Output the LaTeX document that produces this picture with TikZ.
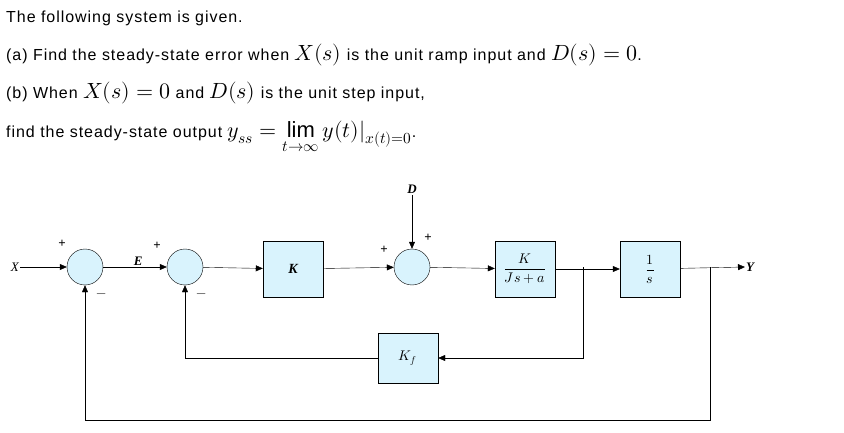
\documentclass[tikz,border=0pt]{standalone}
\usepackage{fontspec}
\setmainfont[LetterSpace=6]{Liberation Sans}
\newfontfamily\serif{Liberation Serif}
\usepackage{unicode-math}
\setmathfont{Latin Modern Math}
\usetikzlibrary{arrows.meta}
\newcommand{\bm}[1]{{\fontsize{22}{22}\selectfont$#1$}}
\begin{document}
\begin{tikzpicture}[x=1pt,y=-1pt,
  blk/.style={draw,fill=cyan!15,minimum width=60pt,minimum height=56pt,inner sep=0pt,font=\fontsize{14}{16}\selectfont},
  sj/.style={draw,circle,fill=cyan!15,minimum size=36pt,inner sep=0pt},
  sig/.style={-{Triangle[length=7pt,width=6pt]}},
  lab/.style={font=\fontsize{13}{15}\selectfont\serif,inner sep=1pt},
  txt/.style={anchor=west,font=\fontsize{16}{19}\selectfont,inner sep=0pt}]
\useasboundingbox (0,0) rectangle (844,433);
\node[txt] (t1) at (6,18) {The following system is given.};
\node[txt] (t2) at (6,55) {(a) Find the steady-state error when \bm{X(s)} is the unit ramp input and \bm{D(s)=0}.};
\node[txt] (t3) at (6,93) {(b) When \bm{X(s)=0} and \bm{D(s)} is the unit step input,};
\node[txt,anchor=base west] (t4) at (6,138) {find the steady-state output \bm{y_{ss}=\lim\limits_{t\to\infty}y(t)|_{x(t)=0}}.};

\coordinate (xin) at (20,267);
\node[lab,anchor=east] (X) at (xin) {\itshape X};
\node[sj] (s1) at (85,267) {};
\node[sj] (s2) at (185,267) {};
\node[blk] (k) at (293,269) {\serif\itshape\bfseries K};
\node[sj] (s3) at (412,267) {};
\node[blk] (g) at (525,269) {$\dfrac{K}{Js+a}$};
\node[blk] (i) at (650,269) {$\dfrac{1}{s}$};
\coordinate (yout) at (745,267);
\node[lab,anchor=west] (Y) at (yout) {\itshape\bfseries Y};
\node[blk,minimum height=50pt] (kf) at (408,358) {$K_f$};
\coordinate (dtop) at (412,195);
\node[lab,anchor=south] (D) at (dtop) {\bfseries\itshape D};
\coordinate (tap1) at (583,267);
\coordinate (tap2) at (710,267);

\draw[sig] (xin) -- (s1);
\draw[sig] (s1) -- node[lab,above,pos=0.55] {\itshape\bfseries E} (s2);
\draw[sig] (s2) -- (k);
\draw[sig] (k) -- (s3);
\draw[sig] (s3) -- (g);
\draw[sig] (g) -- (i);
\draw[sig] (i) -- (yout);
\draw[sig] (dtop) -- (s3);
\draw[sig] (tap1) |- (kf);
\draw[sig] (kf) -| (s2);
\draw[sig] (tap2) |- (85,420) -- (s1);

\node[lab] at (62,244) {\bfseries +};
\node[lab] at (102,296) {$-$};
\node[lab] at (157,246) {\bfseries +};
\node[lab] at (202,296) {$-$};
\node[lab] at (384,250) {\bfseries +};
\node[lab] at (428,238) {\bfseries +};
\end{tikzpicture}
\end{document}
